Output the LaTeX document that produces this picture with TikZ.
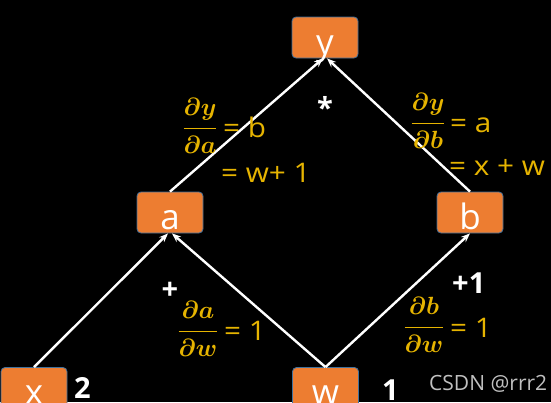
\documentclass[tikz,border=0pt]{standalone}
\usepackage{amsmath}
\usepackage{fontspec}
\setmainfont{Open Sans}
\newfontfamily\eqfont[FakeStretch=1.1]{Open Sans}
\usetikzlibrary{arrows.meta}
\definecolor{boxorange}{HTML}{ED7D31}
\definecolor{boxedge}{HTML}{41719C}
\definecolor{formula}{HTML}{E6B400}
\definecolor{markgray}{HTML}{C0C0C0}
\begin{document}
\begin{tikzpicture}[x=1pt,y=-1pt,
  vbox/.style={fill=boxorange,draw=boxedge,line width=0.8pt,rounded corners=4pt,
    minimum width=66pt,inner sep=0pt,text height=37pt,text depth=4pt,text=white,
    font=\fontsize{35}{35}\selectfont},
  conn/.style={draw=white,line width=2.4pt,-{Stealth[length=9pt,width=7pt]}},
  ylw/.style={text=formula,font=\eqfont\fontsize{27}{27}\selectfont,inner sep=0pt,anchor=base west},
  fracl/.style={text=formula,font=\fontsize{23}{23}\selectfont\boldmath,inner sep=0pt},
  wht/.style={text=white,font=\fontsize{29}{29}\selectfont\bfseries,inner sep=0pt},
]
\fill[black] (0,0) rectangle (551,402);
\useasboundingbox (0,0) rectangle (551,402);

\node[vbox] (y) at (325,37.5) {y};
\node[vbox] (a) at (170,212.5) {a};
\node[vbox] (b) at (470,212.5) {b};
\node[vbox] (x) at (34,388) {x};
\node[vbox] (w) at (325.5,388) {w};

\draw[conn] (x.north) -- ([xshift=-2pt]a.south);
\draw[conn] (w.north) -- ([xshift=2pt]a.south);
\draw[conn] (w.north) -- (b.south);
\draw[conn] (a.north) -- ([xshift=-2pt]y.south);
\draw[conn] (b.north) -- ([xshift=2pt]y.south);

\node[wht,anchor=base] (star) at (325,118) {*};
\node[wht,anchor=base] (plus) at (170,299) {+};
\node[wht,anchor=base west] (plusone) at (452,293) {+1};
\node[wht,anchor=base west] (xval) at (74,398) {2};
\node[wht,anchor=base west] (wval) at (382,400) {1};

\node[fracl] (f1) at (200,126) {$\dfrac{\partial y}{\partial a}$};
\node[ylw] (e1) at (223,137) {= b};
\node[ylw] (e2) at (221,182) {= w+ 1};
\node[fracl] (f2) at (428,121) {$\dfrac{\partial y}{\partial b}$};
\node[ylw] (e3) at (450,132) {= a};
\node[ylw] (e4) at (449,175) {= x + w};
\node[fracl] (f3) at (198,329) {$\dfrac{\partial a}{\partial w}$};
\node[ylw] (e5) at (224,340) {= 1};
\node[fracl] (f4) at (424,325) {$\dfrac{\partial b}{\partial w}$};
\node[ylw] (e6) at (450,337) {= 1};

\node[text=markgray,font=\fontsize{21}{21}\selectfont,inner sep=0pt,anchor=base west] (mark) at (429,390) {CSDN @rrr2};
\end{tikzpicture}
\end{document}
